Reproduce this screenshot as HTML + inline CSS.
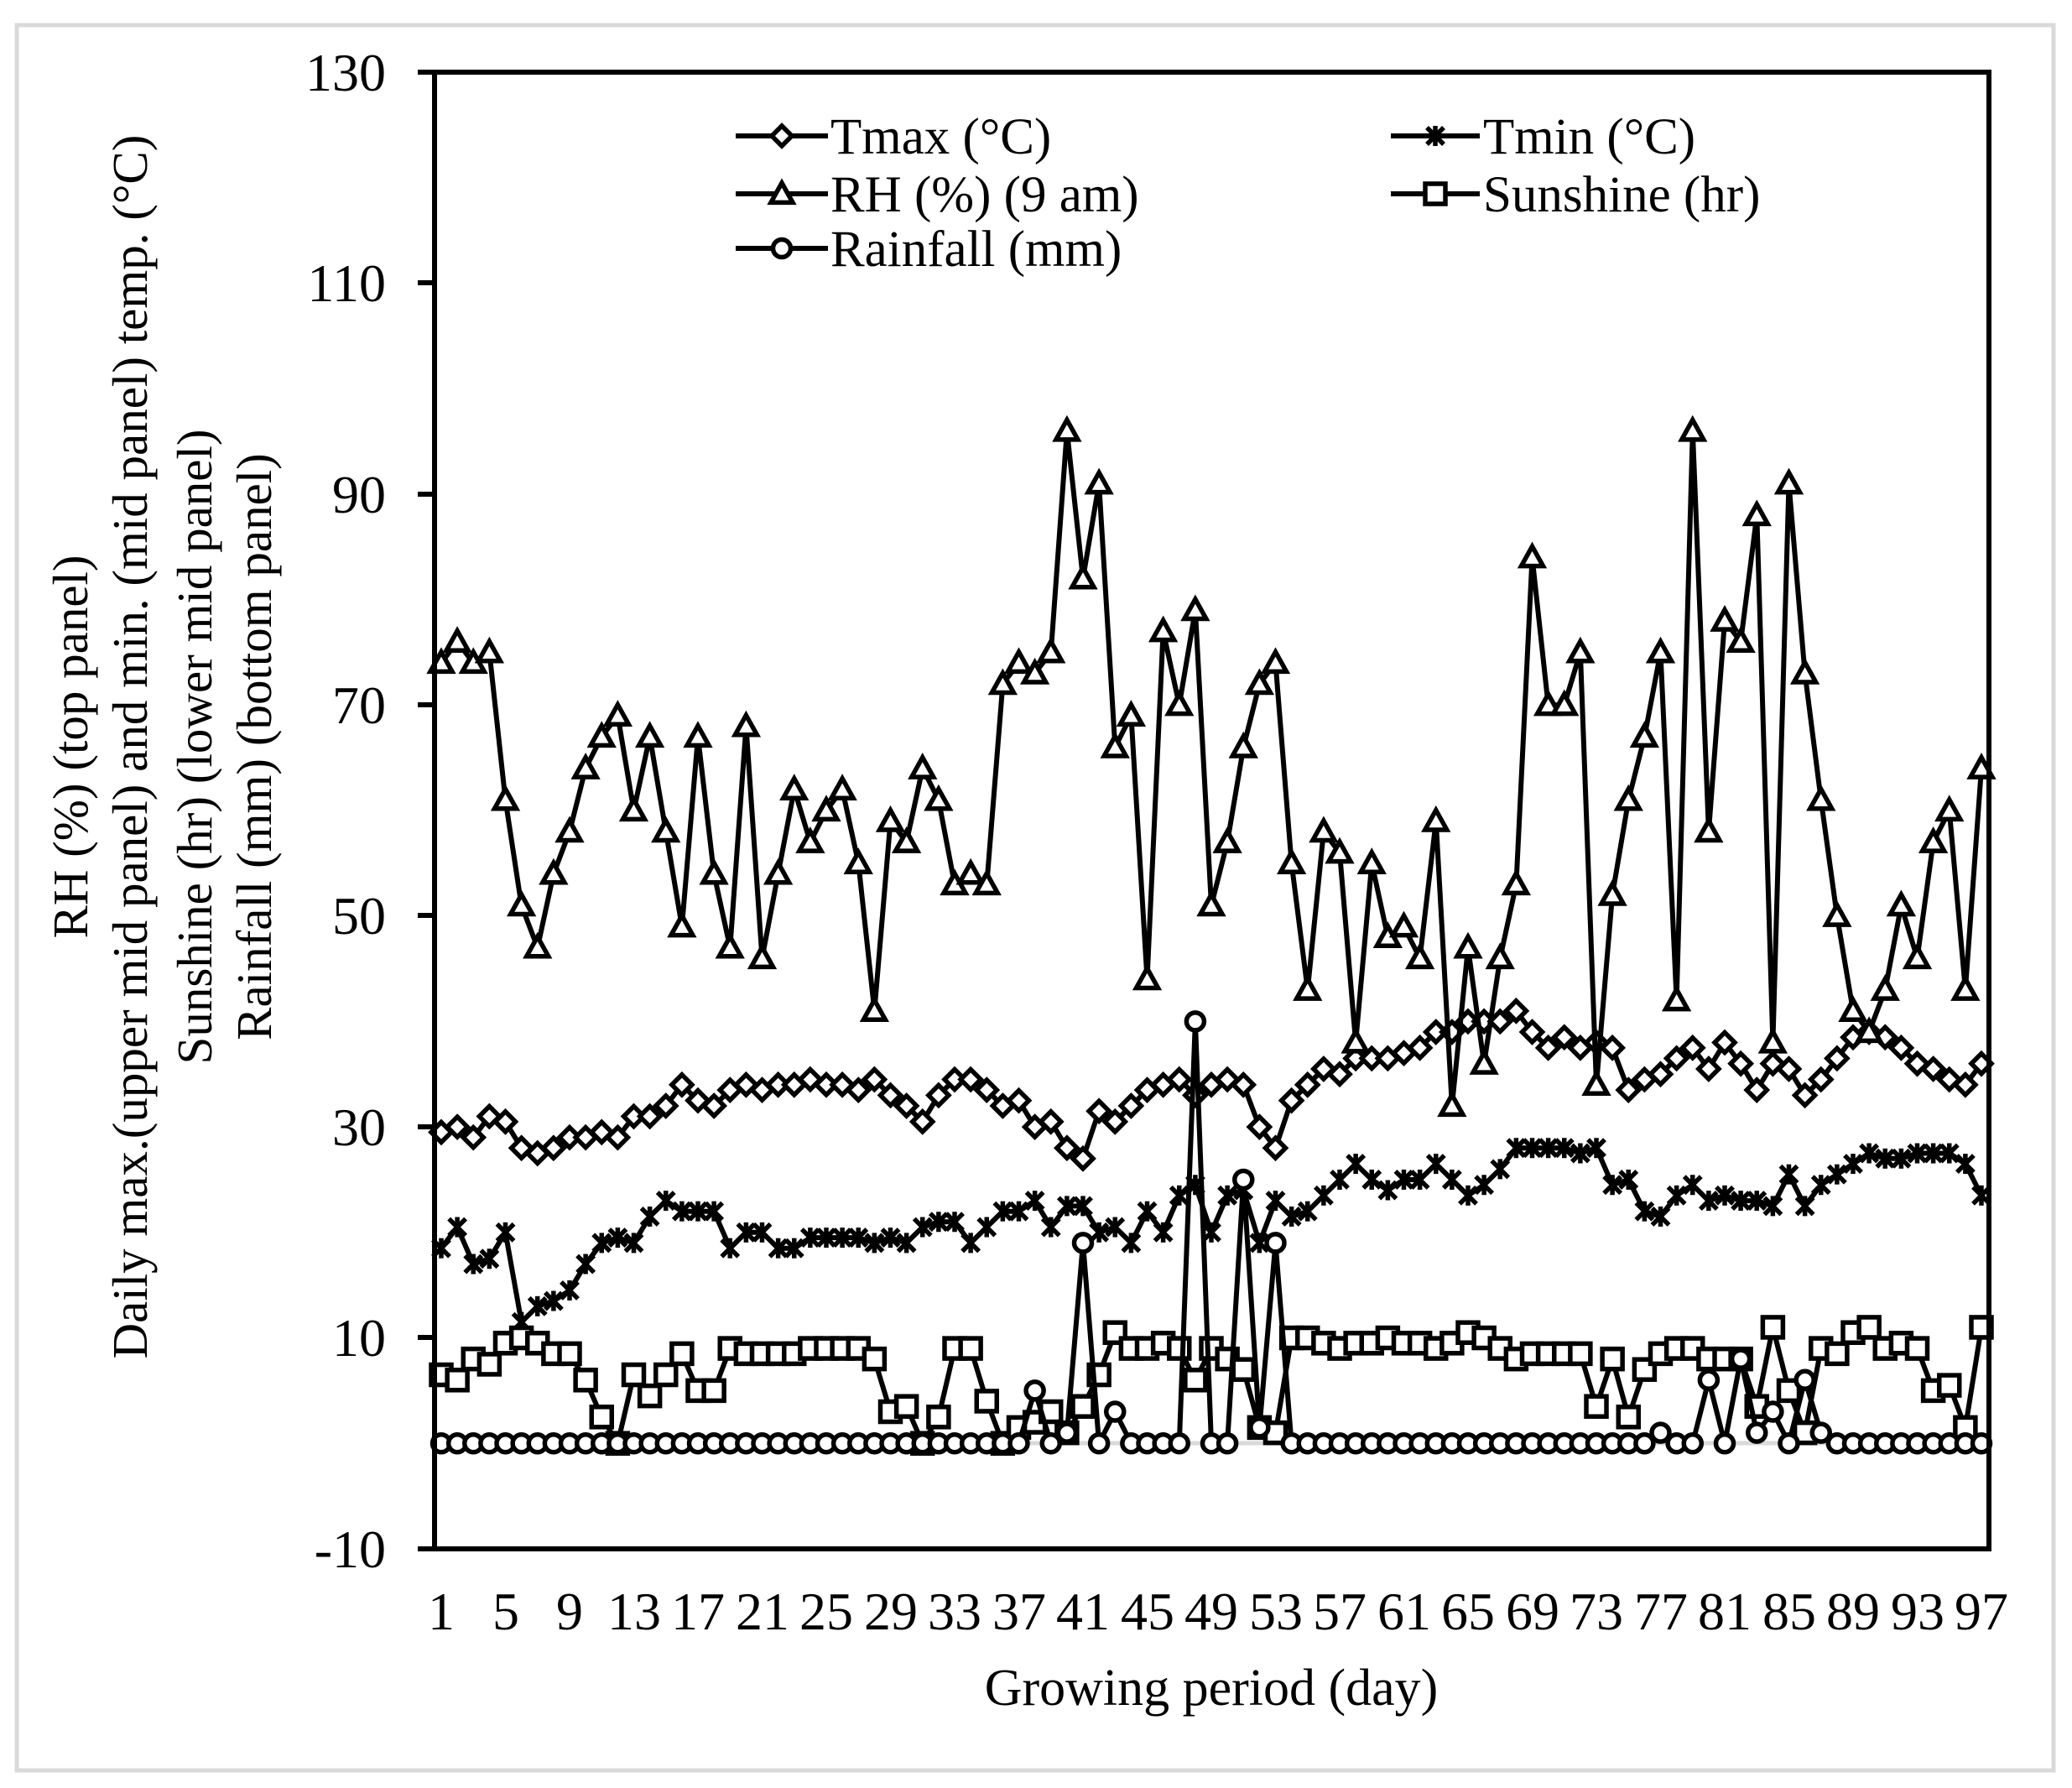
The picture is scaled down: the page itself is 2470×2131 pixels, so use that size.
<!DOCTYPE html>
<html><head><meta charset="utf-8"><style>
html,body{margin:0;padding:0;background:#fff}
svg{display:block}
text{font-family:"Liberation Serif",serif;fill:#000}
</style></head><body>
<svg id="s" width="2470" height="2131" viewBox="0 0 2470 2131" xmlns="http://www.w3.org/2000/svg">
<rect x="0" y="0" width="2470" height="2131" fill="#fff"/>
<rect x="20" y="30" width="2428" height="2080" fill="none" stroke="#d9d9d9" stroke-width="5"/>
<line x1="518" y1="1720" x2="2371" y2="1720" stroke="#d9d9d9" stroke-width="5"/>
<g id="series"></g>
<rect x="518" y="86" width="1853" height="1760" fill="none" stroke="#000" stroke-width="6"/>
<g stroke="#000" stroke-width="6">
<line x1="498" y1="86" x2="518" y2="86"/><line x1="498" y1="337" x2="518" y2="337"/>
<line x1="498" y1="589" x2="518" y2="589"/><line x1="498" y1="840" x2="518" y2="840"/>
<line x1="498" y1="1091" x2="518" y2="1091"/><line x1="498" y1="1343" x2="518" y2="1343"/>
<line x1="498" y1="1594" x2="518" y2="1594"/><line x1="498" y1="1846" x2="518" y2="1846"/>
</g>
<g font-size="64" text-anchor="end">
<text x="460" y="108">130</text><text x="460" y="359">110</text><text x="460" y="611">90</text>
<text x="460" y="862">70</text><text x="460" y="1113">50</text><text x="460" y="1365">30</text>
<text x="460" y="1616">10</text><text x="460" y="1868">-10</text>
</g>
<g font-size="64" text-anchor="middle">
<text x="526" y="1942">1</text><text x="603" y="1942">5</text><text x="679" y="1942">9</text>
<text x="756" y="1942">13</text><text x="832" y="1942">17</text><text x="909" y="1942">21</text>
<text x="985" y="1942">25</text><text x="1062" y="1942">29</text><text x="1138" y="1942">33</text>
<text x="1215" y="1942">37</text><text x="1291" y="1942">41</text><text x="1368" y="1942">45</text>
<text x="1444" y="1942">49</text><text x="1521" y="1942">53</text><text x="1597" y="1942">57</text>
<text x="1674" y="1942">61</text><text x="1750" y="1942">65</text><text x="1827" y="1942">69</text>
<text x="1903" y="1942">73</text><text x="1980" y="1942">77</text><text x="2056" y="1942">81</text>
<text x="2133" y="1942">85</text><text x="2209" y="1942">89</text><text x="2286" y="1942">93</text>
<text x="2362" y="1942">97</text>
</g>
<text x="1444" y="2032" font-size="62" text-anchor="middle">Growing period (day)</text>
<g font-size="59" text-anchor="middle">
<text transform="translate(104,890) rotate(-90)">RH (%) (top panel)</text>
<text transform="translate(175,890) rotate(-90)">Daily max.(upper mid panel) and min. (mid panel) temp. (°C)</text>
<text transform="translate(252,890) rotate(-90)">Sunshine (hr) (lower mid panel)</text>
<text transform="translate(323,890) rotate(-90)">Rainfall (mm) (bottom panel)</text>
</g>
<g id="legend" font-size="61">
<text x="990" y="183">Tmax (°C)</text>
<text x="1768" y="183">Tmin (°C)</text>
<text x="990" y="252">RH (%) (9 am)</text>
<text x="1768" y="252">Sunshine (hr)</text>
<text x="990" y="317">Rainfall (mm)</text>
</g>
</svg>
<script>
(function(){
var NS="http://www.w3.org/2000/svg";
var g=document.getElementById('series'), lg=document.getElementById('legend');
function X(d){return 526+(d-1)*19.125;}
function Y(v){return 86+(130-v)*12.571;}
function el(p,n,a){var e=document.createElementNS(NS,n);for(var k in a)e.setAttribute(k,a[k]);p.appendChild(e);return e;}
function marker(p,t,x,y){
 var st={stroke:"#000","stroke-width":5.5,fill:"#fff"};
 if(t=="d"){var s=12;el(p,"polygon",Object.assign({points:(x)+","+(y-s)+" "+(x+s)+","+y+" "+x+","+(y+s)+" "+(x-s)+","+y},st));}
 else if(t=="t"){var s=13;el(p,"polygon",Object.assign({points:x+","+(y-s)+" "+(x+s)+","+(y+s*0.8)+" "+(x-s)+","+(y+s*0.8)},st));}
 else if(t=="q"){var s=12;el(p,"rect",Object.assign({x:x-s,y:y-s,width:2*s,height:2*s},st));}
 else if(t=="o"){el(p,"circle",Object.assign({cx:x,cy:y,r:10.5},st));}
 else if(t=="x"){var s=10;var a={stroke:"#000","stroke-width":5.5};
  el(p,"line",Object.assign({x1:x-s,y1:y-s,x2:x+s,y2:y+s},a));el(p,"line",Object.assign({x1:x-s,y1:y+s,x2:x+s,y2:y-s},a));el(p,"line",Object.assign({x1:x,y1:y-s-2,x2:x,y2:y+s+2},a));}
}
function series(data,t){
 var pts=data.map(function(v,i){return X(i+1).toFixed(1)+","+Y(v).toFixed(1);}).join(" ");
 el(g,"polyline",{points:pts,fill:"none",stroke:"#000","stroke-width":6,"stroke-linejoin":"round"});
 data.forEach(function(v,i){marker(g,t,X(i+1),Y(v));});
}
var tmax=[29.5,30,29,31,30.5,28,27.5,28,29,29,29.5,29,31,31,32,34,32.5,32,33.5,34,33.5,34,34,34.5,34,34,33.5,34.5,33,32,30.5,33,34.5,34.5,33.5,32,32.5,30,30.5,28,27,31.5,30.5,32,33.5,34,34.5,33,34,34.5,34,30,28,32.5,34,35.5,35,36.5,36.5,36.5,37,37.5,39,39,40,40,40,41,39,37.5,38.5,37.5,38,37.5,33.5,34.5,35,36.5,37.5,35.5,38,36,33.5,36,35.5,33,34.5,36.5,38.5,39,38.5,37.5,36,35.5,34.5,34,36];
var tmin=[18.5,20.5,17,17.5,20,11.5,13,13.5,14.5,17,19,19.5,19,21.5,23,22,22,22,18.5,20,20,18.5,18.5,19.5,19.5,19.5,19.5,19,19.5,19,20.5,21,21,19,20.5,22,22,23,20.5,22.5,22.5,20,20.5,19,22,20,23.5,24.5,20,23.5,24,19,23,21.5,22,23.5,25,26.5,25,24,25,25,26.5,25,23.5,24.5,26,28,28,28,28,27.5,28,24.5,25,22,21.5,23.5,24.5,23,23.5,23,23,22.5,25.5,22.5,24.5,25.5,26.5,27.5,27,27,27.5,27.5,27.5,26.5,23.5];
var rh=[74,76,74,75,61,51,47,54,58,64,67,69,60,67,58,49,67,54,47,68,46,54,62,57,60,62,55,41,59,57,64,61,53,54,53,72,74,73,75,96,82,91,66,69,44,77,70,79,51,57,66,72,74,55,43,58,56,38,55,48,49,46,59,32,47,36,46,53,84,70,70,75,34,52,61,67,75,42,96,58,78,76,88,38,91,73,61,50,41,39,43,51,46,57,60,43,64];
var sun=[6.5,6,8,7.5,9.5,10,9.5,8.5,8.5,6,2.5,0,6.5,4.5,6.5,8.5,5,5,9,8.5,8.5,8.5,8.5,9,9,9,9,8,3,3.5,0,2.5,9,9,4,0,1.5,2,3,1,3.5,6.5,10.5,9,9,9.5,9,6,9,8,7,1.5,1,10,10,9.5,9,9.5,9.5,10,9.5,9.5,9,9.5,10.5,10,9,8,8.5,8.5,8.5,8.5,3.5,8,2.5,7,8.5,9,9,8,8,8,3.5,11,5,1,9,8.5,10.5,11,9,9.5,9,5,5.5,1.5,11];
var rain=[];for(var i=0;i<97;i++)rain.push(0);
var rv={38:5,40:1,41:19,43:3,48:40,51:25,52:1.5,53:19,77:1,80:6,82:8,83:1,84:3,86:6,87:1};
for(var k in rv)rain[k-1]=rv[k];
series(tmax,"d");series(tmin,"x");series(rh,"t");series(sun,"q");series(rain,"o");
var L=[[877,987,162,"d"],[1658,1764,162,"x"],[877,987,231,"t"],[1658,1764,231,"q"],[877,987,296,"o"]];
L.forEach(function(l){el(lg,"line",{x1:l[0],y1:l[2],x2:l[1],y2:l[2],stroke:"#000","stroke-width":6});marker(lg,l[3],(l[0]+l[1])/2,l[2]);});
})();
</script>
</body></html>
